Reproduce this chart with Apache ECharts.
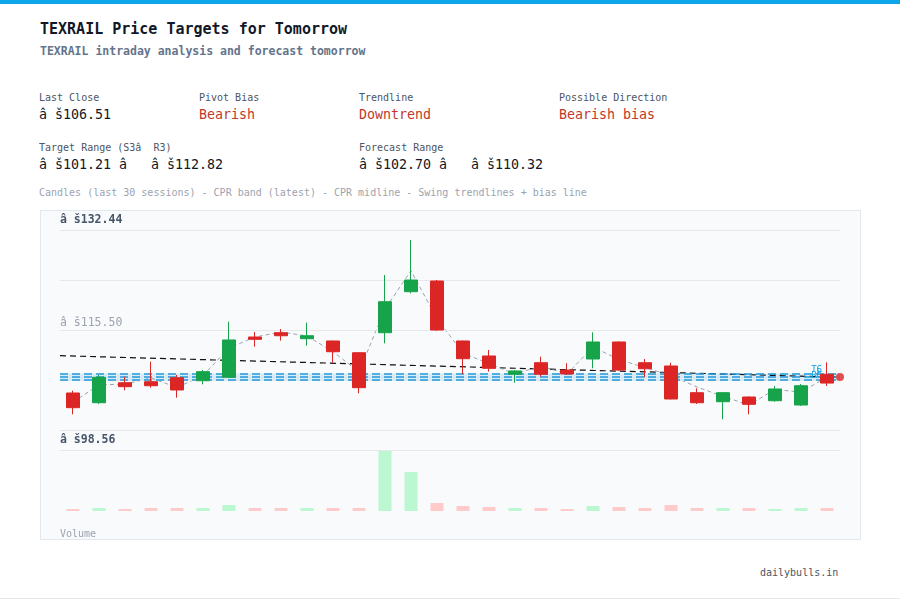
<!DOCTYPE html>
<html>
<head>
<meta charset="utf-8">
<script src="https://cdn.jsdelivr.net/npm/echarts@6/dist/echarts.min.js"></script>
<style>
  html, body { margin:0; padding:0; background:#ffffff; }
  body { width:900px; height:600px; position:relative; overflow:hidden; font-family:"DejaVu Sans Mono", monospace; }
  .topbar { position:absolute; left:0; top:0; width:900px; height:4px; background:#0ea5e9; }
  .bottomline { position:absolute; left:0; top:598px; width:900px; height:1px; background:#e5e7eb; }
  .t { position:absolute; white-space:pre; line-height:1; }
  #title { left:40px; top:22px; font-size:15px; font-weight:bold; color:#111827; }
  #subtitle { left:40px; top:46px; font-size:11.5px; font-weight:bold; color:#64748b; }
  .lbl { font-size:10px; color:#4b5563; }
  .val { font-size:13.3px; color:#111827; }
  .red { color:#c0392b; }
  #caption { left:39px; top:188px; font-size:10px; color:#9ca3af; }
  #footer { left:760px; top:568px; font-size:10px; color:#4b5563; }
  #chart { position:absolute; left:40px; top:210px; width:821px; height:330px; background:#f8fafc; outline:1px solid #e2e8f0; outline-offset:-1px; }
</style>
</head>
<body>
<div class="topbar"></div>
<div class="t" id="title">TEXRAIL Price Targets for Tomorrow</div>
<div class="t" id="subtitle">TEXRAIL intraday analysis and forecast tomorrow</div>

<div class="t lbl" style="left:39px;top:93px;">Last Close</div>
<div class="t val" style="left:39px;top:108px;">â š106.51</div>
<div class="t lbl" style="left:199px;top:93px;">Pivot Bias</div>
<div class="t val red" style="left:199px;top:108px;">Bearish</div>
<div class="t lbl" style="left:359px;top:93px;">Trendline</div>
<div class="t val red" style="left:359px;top:108px;">Downtrend</div>
<div class="t lbl" style="left:559px;top:93px;">Possible Direction</div>
<div class="t val red" style="left:559px;top:108px;">Bearish bias</div>

<div class="t lbl" style="left:39px;top:143px;">Target Range (S3â  R3)</div>
<div class="t val" style="left:39px;top:158px;">â š101.21 â   â š112.82</div>
<div class="t lbl" style="left:359px;top:143px;">Forecast Range</div>
<div class="t val" style="left:359px;top:158px;">â š102.70 â   â š110.32</div>

<div class="t" id="caption">Candles (last 30 sessions) - CPR band (latest) - CPR midline - Swing trendlines + bias line</div>
<div id="chart"></div>
<div class="t" id="footer">dailybulls.in</div>
<div class="bottomline"></div>

<script>
// ---- data ----
const sessions = ['1','2','3','4','5','6','7','8','9','10','11','12','13','14','15','16','17','18','19','20','21','22','23','24','25','26','27','28','29','30'];
const openVals  = [104.83,103.18,106.57,106.74,107.42,106.91,107.49,114.31,115.04,114.03,113.64,111.65,115.04,121.99,123.80,113.64,111.10,108.00,109.96,108.72,110.59,113.47,109.96,109.40,104.88,103.35,104.15,103.52,102.79,108.00];
const closeVals = [102.34,107.49,105.90,106.06,105.34,108.44,113.81,113.92,114.53,114.53,111.82,105.73,120.29,123.97,115.50,110.64,109.01,108.56,108.00,108.05,113.47,108.72,108.94,103.81,103.18,104.88,102.91,105.51,106.06,106.51];
const highVals  = [105.22,107.88,107.59,110.13,107.88,108.72,116.91,115.16,115.67,116.74,113.70,111.70,124.82,130.75,123.97,113.70,112.11,108.72,110.98,109.86,115.11,113.55,110.59,109.96,105.62,104.95,104.25,106.01,106.35,110.03];
const lowVals   = [101.22,102.98,105.29,105.73,104.03,106.30,107.42,112.67,113.69,112.84,109.96,104.78,113.25,121.72,115.38,108.05,108.44,106.57,107.59,107.88,109.01,108.56,107.49,103.75,102.97,100.37,101.22,103.35,102.63,106.01];
const volumeVals = [20000,30000,20000,30000,30000,30000,60000,30000,30000,30000,30000,30000,610000,390000,80000,50000,40000,30000,30000,20000,50000,40000,30000,60000,30000,30000,30000,20000,30000,30000];
const swingLine = [103.30,106.18,106.35,107.37,105.76,107.79,112.45,114.31,115.16,114.48,111.82,108.39,119.06,125.55,117.40,111.60,109.79,108.05,109.40,108.05,112.62,110.49,109.13,107.79,105.84,104.27,102.79,105.44,104.96,107.54];
const biasLineEnds = [111.15, 107.50];   // bias line at first and last edge
const cprTop = 108.02, cprPivot = 107.52, cprBottom = 107.02;
const priceTicks = [132.44, 123.97, 115.50, 107.03, 98.56];
const priceMin = 98.56, priceMax = 132.44;
const volumeMax = 610000;
const cur = 'â š';

const candleData = sessions.map((s, i) => [openVals[i], closeVals[i], lowVals[i], highVals[i]]);
const GREEN = '#16a34a', RED = '#dc2626';
const volData = volumeVals.map((v, i) => ({
  value: v,
  itemStyle: { color: closeVals[i] >= openVals[i] ? '#bbf7d0' : '#fecaca' }
}));

const gridLineData = priceTicks.map((v, i) => {
  const item = { yAxis: v, label: { show: false } };
  if (i === 0) item.label = { show: true, position: 'insideStartTop', distance: [0, 4], formatter: cur + v.toFixed(2), color: '#475569', fontWeight: 'bold', fontSize: 11.5, fontFamily: 'DejaVu Sans Mono' };
  if (i === 2) item.label = { show: true, position: 'insideStartTop', distance: [0, 1], formatter: cur + v.toFixed(2), color: '#9ca3af', fontSize: 11.5, fontFamily: 'DejaVu Sans Mono' };
  if (i === 4) item.label = { show: true, position: 'insideStartBottom', distance: [0, 4], formatter: cur + v.toFixed(2), color: '#475569', fontWeight: 'bold', fontSize: 11.5, fontFamily: 'DejaVu Sans Mono' };
  return item;
});

const cprLabel = (txt) => ({ show: true, position: 'insideEndTop', distance: [18, 0], formatter: txt, color: '#0ea5e9', fontSize: 9, fontFamily: 'DejaVu Sans Mono' });

const chart = echarts.init(document.getElementById('chart'), null, { renderer: 'canvas' });
chart.setOption({
  animation: false,
  backgroundColor: 'transparent',
  grid: [
    { left: 20, top: 20, width: 780, height: 200 },
    { left: 20, top: 240, width: 780, height: 61 }
  ],
  xAxis: [
    { type: 'category', gridIndex: 0, data: sessions, boundaryGap: true, show: false },
    { type: 'value', gridIndex: 0, min: -0.5, max: 29.5, show: false },
    { type: 'category', gridIndex: 1, data: sessions, boundaryGap: true, show: false }
  ],
  yAxis: [
    { type: 'value', gridIndex: 0, min: priceMin, max: priceMax, show: false, splitLine: { show: false } },
    { type: 'value', gridIndex: 1, min: 0, max: volumeMax, show: false, splitLine: { show: false } }
  ],
  series: [
    {
      type: 'line', xAxisIndex: 1, yAxisIndex: 0, data: [], z: 1, silent: true,
      markLine: {
        silent: true, symbol: ['none', 'none'], animation: false,
        lineStyle: { color: '#e5e7eb', width: 1, type: 'solid' },
        data: gridLineData
      }
    },
    {
      type: 'line', xAxisIndex: 1, yAxisIndex: 0, z: 2, silent: true,
      data: [[-0.5, biasLineEnds[0]], [29.5, biasLineEnds[1]]],
      symbol: 'none',
      lineStyle: { color: '#111111', width: 1.2, type: [6, 4] },
      markArea: {
        silent: true,
        itemStyle: { color: 'rgba(56,160,230,0.16)' },
        data: [[{ yAxis: cprBottom - 0.12 }, { yAxis: cprTop + 0.12 }]]
      },
      markLine: {
        silent: true, symbol: ['none', 'none'], animation: false,
        lineStyle: { color: '#1f9ad6', width: 1.5, type: [8, 4] },
        data: [
          { yAxis: cprTop, label: cprLabel('TC') },
          { yAxis: cprPivot, label: cprLabel('P') },
          { yAxis: cprBottom, label: cprLabel('BC') }
        ]
      }
    },
    {
      type: 'line', xAxisIndex: 0, yAxisIndex: 0, z: 2, silent: true,
      data: swingLine, symbol: 'none',
      lineStyle: { color: '#9ca3af', width: 1, type: [4, 3] }
    },
    {
      type: 'candlestick', xAxisIndex: 0, yAxisIndex: 0, z: 5,
      data: candleData, barWidth: '50%',
      itemStyle: { color: GREEN, color0: RED, borderColor: GREEN, borderColor0: RED, borderWidth: 1 }
    },
    {
      type: 'scatter', xAxisIndex: 1, yAxisIndex: 0, z: 6, clip: false,
      data: [[29.5, cprPivot]], symbolSize: 8,
      itemStyle: { color: RED }
    },
    {
      type: 'bar', xAxisIndex: 2, yAxisIndex: 1, data: volData, barWidth: '50%',
      markLine: {
        silent: true, symbol: ['none', 'none'], animation: false,
        lineStyle: { color: '#e5e7eb', width: 1, type: 'solid' },
        label: { show: false },
        data: [{ yAxis: volumeMax }]
      }
    }
  ],
  graphic: [
    { type: 'text', left: 20, top: 319, style: { text: 'Volume', fill: '#9ca3af', font: '10px "DejaVu Sans Mono"' } }
  ]
});
</script>
</body>
</html>
